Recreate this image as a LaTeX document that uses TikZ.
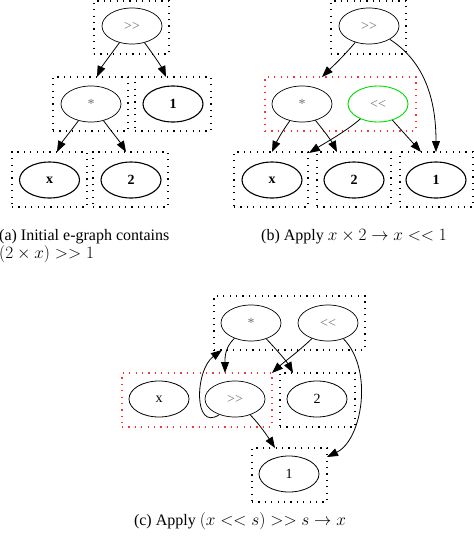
\documentclass[tikz,border=0pt]{standalone}
\usepackage{fontspec}
\setmainfont{Liberation Serif}
\usetikzlibrary{arrows.meta,shapes.geometric}
\begin{document}
\begin{tikzpicture}[x=1pt,y=-1pt,
  cluster/.style={draw, line width=1.2pt, dash pattern=on 1.2pt off 5.2pt, rectangle, inner sep=0pt},
  redcluster/.style={cluster, draw=red!80!white},
  op/.style={draw, ellipse, line width=0.7pt, minimum width=60pt, minimum height=36pt, inner sep=0pt,
     font=\fontsize{14}{16}\selectfont, text=black!55},
  leaf/.style={draw, ellipse, line width=1.1pt, minimum width=60pt, minimum height=36pt, inner sep=0pt,
     font=\fontsize{14}{16}\selectfont\bfseries},
  leafc/.style={leaf, font=\fontsize{14}{16}\selectfont, line width=0.8pt},
  greenop/.style={op, draw=green!80!black!70!green, line width=0.9pt},
  arr/.style={line width=0.8pt, -{Triangle[length=11pt,width=8pt]}},
  captext/.style={font=\fontsize{16}{18}\selectfont, inner sep=0pt}
]
\useasboundingbox (0,0) rectangle (474,539);

% ---------------- panel (a)
\node[cluster, minimum width=75pt, minimum height=53pt] (A1) at (131.5,27.5) {};
\node[cluster, minimum width=75pt, minimum height=54pt] (A2) at (90.5,104) {};
\node[cluster, minimum width=76pt, minimum height=54pt] (A3) at (173,104) {};
\node[cluster, minimum width=75pt, minimum height=55pt] (A4) at (49.5,179.5) {};
\node[cluster, minimum width=75pt, minimum height=55pt] (A5) at (130.5,179.5) {};
\node[op] (ash) at (132,26) {>{}>};
\node[op] (amul) at (91,104) {*};
\node[leaf] (aone) at (173,104) {1};
\node[leaf] (ax) at (49.5,180) {x};
\node[leaf] (atwo) at (131,180) {2};
\coordinate (ta1) at (97,77);
\coordinate (ta2) at (166,77);
\coordinate (ta3) at (57,152);
\coordinate (ta4) at (126,152);
\draw[arr] (ash) .. controls (108,58) and (101,68) .. (ta1);
\draw[arr] (ash) .. controls (156,58) and (162,68) .. (ta2);
\draw[arr] (amul) .. controls (70,132) and (62,142) .. (ta3);
\draw[arr] (amul) .. controls (112,132) and (120,142) .. (ta4);
\node[captext, anchor=base west, align=left] (capa) at (-1,258) {(a) Initial e-graph contains\\$(2\times x) >> 1$};

% ---------------- panel (b)
\node[cluster, minimum width=75pt, minimum height=53pt] (B1) at (368.5,27.5) {};
\node[redcluster, minimum width=151pt, minimum height=54pt] (B2) at (340.5,104) {};
\node[cluster, minimum width=74pt, minimum height=55pt] (B3) at (271,179.5) {};
\node[cluster, minimum width=74pt, minimum height=55pt] (B4) at (354,179.5) {};
\node[cluster, minimum width=73pt, minimum height=55pt] (B5) at (436.5,179.5) {};
\node[op] (bsh) at (369,26) {>{}>};
\node[op] (bmul) at (302,104) {*};
\node[greenop] (bshl) at (378,104) {<{}<};
\node[leaf] (bx) at (272,180) {x};
\node[leaf] (btwo) at (354,180) {2};
\node[leaf] (bone) at (436,180) {1};
\coordinate (tb1) at (322,77);
\coordinate (tb2) at (436,152);
\coordinate (tb3) at (272,152);
\coordinate (tb4) at (337,152);
\coordinate (tb5) at (309,153);
\coordinate (tb6) at (421,152);
\draw[arr] (bsh) .. controls (343,57) and (331,68) .. (tb1);
\draw[arr] (bsh) .. controls (425,62) and (436,100) .. (tb2);
\draw[arr] (bmul) .. controls (281,133) and (276,143) .. (tb3);
\draw[arr] (bmul) .. controls (325,132) and (332,142) .. (tb4);
\draw[arr] (bshl) .. controls (345,132) and (325,143) .. (tb5);
\draw[arr] (bshl) .. controls (403,132) and (413,143) .. (tb6);
\node[captext, anchor=base] (capb) at (354,240) {(b) Apply $x\times 2\rightarrow x << 1$};

% ---------------- panel (c)
\node[cluster, minimum width=151pt, minimum height=54pt] (C1) at (289.5,323) {};
\node[redcluster, minimum width=150pt, minimum height=54pt] (C2) at (197,400) {};
\node[cluster, minimum width=75pt, minimum height=54pt] (C3) at (317.5,400) {};
\node[cluster, minimum width=75pt, minimum height=54pt] (C4) at (289.5,475) {};
\node[op] (cmul) at (251,323) {*};
\node[op] (cshl) at (328,323) {<{}<};
\node[leafc] (cx) at (159,399) {x};
\node[op] (csh) at (235,399) {>{}>};
\node[leafc] (ctwo) at (317,399) {2};
\node[leafc] (cone) at (289,474) {1};
\coordinate (tc1) at (225,373);
\coordinate (tc2) at (222,350);
\coordinate (tc3) at (293,373);
\coordinate (tc4) at (272,373);
\coordinate (tc5) at (327,457);
\coordinate (tc6) at (275,448);
\draw[arr] (cmul) .. controls (224,348) and (225,360) .. (tc1);
\draw[arr] (csh.225) .. controls (193,432) and (195,370) .. (tc2);
\draw[arr] (cmul) .. controls (277,350) and (287,362) .. (tc3);
\draw[arr] (cshl) .. controls (298,352) and (284,362) .. (tc4);
\draw[arr] (cshl) .. controls (374,370) and (362,440) .. (tc5);
\draw[arr] (csh) .. controls (260,425) and (268,437) .. (tc6);
\node[captext, anchor=base] (capc) at (240,525) {(c) Apply $(x << s) >> s\rightarrow x$};
\end{tikzpicture}
\end{document}
